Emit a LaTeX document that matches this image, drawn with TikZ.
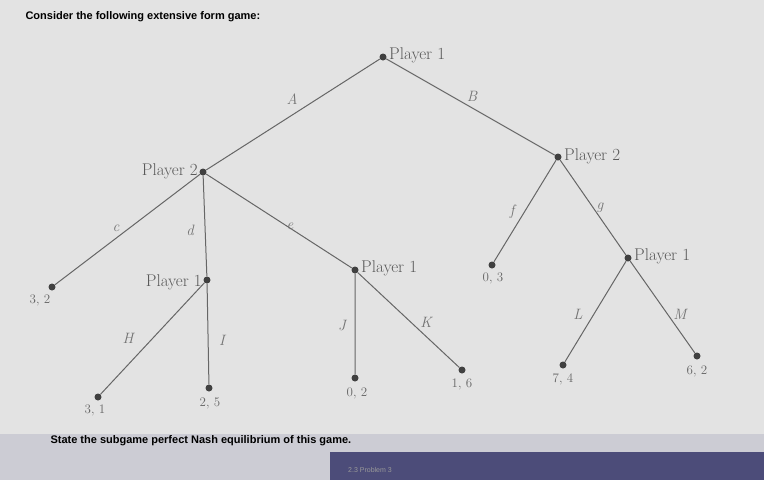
\documentclass[tikz,border=0pt]{standalone}
\usepackage{fontspec}
\newfontfamily\hv{Liberation Sans}
\begin{document}
\begin{tikzpicture}[x=1pt,y=-1pt,
  dot/.style={circle,fill=black!75,inner sep=0pt,minimum size=7pt},
  ln/.style={draw=black!60,line width=1pt},
  lab/.style={font=\fontsize{17}{17}\selectfont,text=black!65,inner sep=1pt},
  pay/.style={font=\fontsize{13}{13}\selectfont,text=black!60,inner sep=1pt},
  act/.style={font=\itshape\fontsize{15}{15}\selectfont,text=black!55,inner sep=1pt}]
\fill[black!11] (0,0) rectangle (764,480);
\fill[blue!15!black!20] (0,434) rectangle (764,480);
\fill[blue!25!black!70] (330,452) rectangle (764,480);
\useasboundingbox (0,0) rectangle (764,480);
\node[anchor=west,font=\hv\bfseries\fontsize{11}{11}\selectfont] (t1) at (22,17) {Consider the following extensive form game:};
\node[anchor=west,font=\hv\bfseries\fontsize{11}{11}\selectfont] (t2) at (47,441) {State the subgame perfect Nash equilibrium of this game.};
\node[font=\hv\fontsize{7}{7}\selectfont,text=black!40] (t3) at (370,470) {2.3 Problem 3};
\node[dot] (r) at (383,57) {};
\node[dot] (p2) at (203,172) {};
\node[dot] (q2) at (558,157) {};
\node[dot] (cl) at (52,287) {};
\node[dot] (p1a) at (207,280) {};
\node[dot] (p1b) at (355,270) {};
\node[dot] (hl) at (98,397) {};
\node[dot] (il) at (209,388) {};
\node[dot] (jl) at (355,378) {};
\node[dot] (kl) at (462,370) {};
\node[dot] (fl) at (492,265) {};
\node[dot] (p1c) at (628,258) {};
\node[dot] (ll) at (563,365) {};
\node[dot] (ml) at (697,356) {};
\draw[ln] (r)--(p2) (r)--(q2) (p2)--(cl) (p2)--(p1a) (p2)--(p1b)
  (p1a)--(hl) (p1a)--(il) (p1b)--(jl) (p1b)--(kl) (q2)--(fl) (q2)--(p1c)
  (p1c)--(ll) (p1c)--(ml);
\node[lab,anchor=west] (n1) at (388,55) {Player 1};
\node[lab,anchor=east] (n2) at (199,171) {Player 2};
\node[lab,anchor=west] (n3) at (563,156) {Player 2};
\node[lab,anchor=east] (n4) at (203,282) {Player 1};
\node[lab,anchor=west] (n5) at (360,268) {Player 1};
\node[lab,anchor=west] (n6) at (633,256) {Player 1};
\node[act] (aA) at (292,99) {A};
\node[act] (aB) at (472,96) {B};
\node[act] (ac) at (116,228) {c};
\node[act] (ad) at (190,230) {d};
\node[act] (ae) at (290,226) {e};
\node[act] (af) at (512,212) {f};
\node[act] (ag) at (600,208) {g};
\node[act] (aH) at (128,338) {H};
\node[act] (aI) at (222,340) {I};
\node[act] (aJ) at (342,326) {J};
\node[act] (aK) at (426,322) {K};
\node[act] (aL) at (578,314) {L};
\node[act] (aM) at (680,314) {M};
\node[pay] (v1) at (40,300) {3, 2};
\node[pay] (v2) at (95,410) {3, 1};
\node[pay] (v3) at (210,403) {2, 5};
\node[pay] (v4) at (357,393) {0, 2};
\node[pay] (v5) at (462,384) {1, 6};
\node[pay] (v6) at (493,278) {0, 3};
\node[pay] (v7) at (563,379) {7, 4};
\node[pay] (v8) at (697,371) {6, 2};
\end{tikzpicture}
\end{document}
